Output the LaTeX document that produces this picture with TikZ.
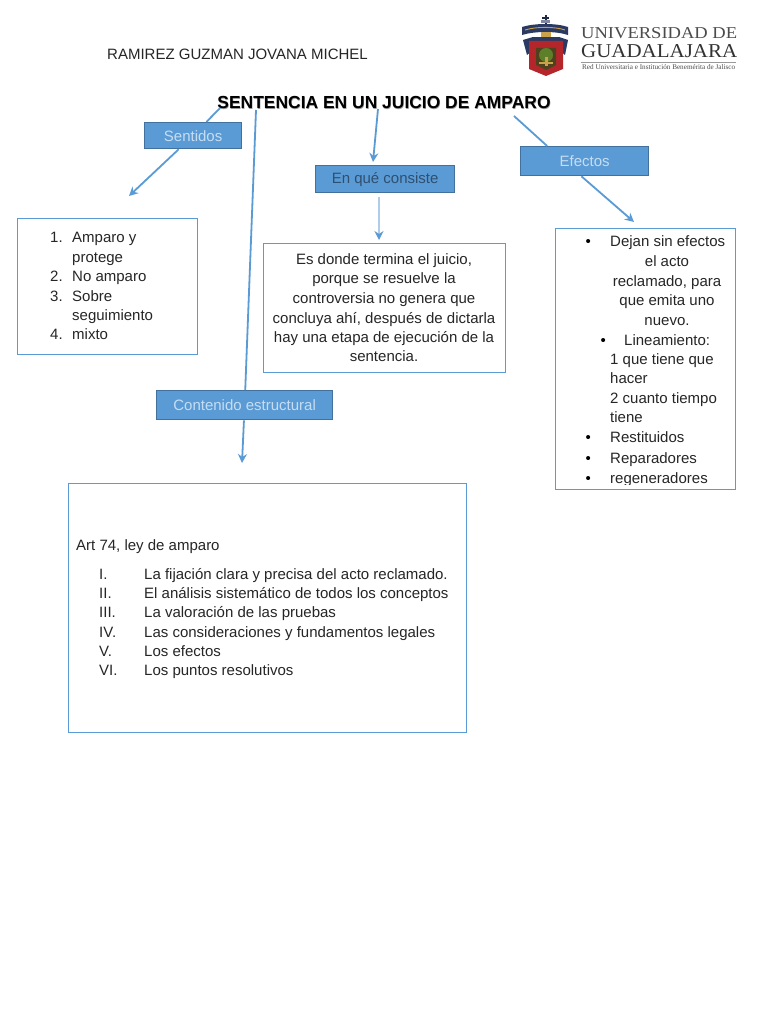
\documentclass[tikz,border=0pt]{standalone}
\usepackage{fontspec}
\setmainfont{Liberation Sans}
\newfontfamily\logoserif{Liberation Serif}
\usetikzlibrary{arrows.meta}
\definecolor{boxblue}{HTML}{5B9BD5}
\definecolor{boxedge}{HTML}{41719C}
\definecolor{lighttext}{HTML}{C5DDF2}
\definecolor{darktext}{HTML}{2F4F70}
\definecolor{bodytext}{HTML}{262626}
\definecolor{crestred}{HTML}{B5262B}
\definecolor{crestgold}{HTML}{C9A24A}
\definecolor{crestnavy}{HTML}{2B3A63}
\definecolor{crestgreen}{HTML}{5E7F2A}
\tikzset{
  x=1pt,y=-1pt,
  bodyfont/.style={font=\fontsize{15}{19.5}\selectfont,text=bodytext},
  line/.style={draw=boxblue,line width=1.8pt},
  arrowline/.style={line,-{Stealth[length=9pt,width=9pt]}},
  softarrow/.style={draw=boxblue!50,line width=1.3pt,-{Stealth[length=9pt,width=9pt,color=boxblue]}},
  label/.style={fill=boxblue,draw=boxedge,line width=1.3pt,inner sep=0pt,anchor=north west,font=\fontsize{15}{16}\selectfont},
  textbox/.style={draw=boxblue,line width=1.4pt,fill=white},
  txt/.style={bodyfont,anchor=base west,inner sep=0pt},
  ctxt/.style={bodyfont,anchor=base,inner sep=0pt},
  dot/.style={anchor=base west,inner sep=0pt,font=\fontsize{15}{19.5}\selectfont,text=black},
}
\begin{document}
\begin{tikzpicture}
\useasboundingbox (0,0) rectangle (768,1024);
\fill[white] (0,0) rectangle (768,1024);

% free ends of the connectors
\coordinate (sentFrom) at (220,108);
\coordinate (sentTip) at (129,196);
\coordinate (consFrom) at (378,109);
\coordinate (consTip) at (373,162);
\coordinate (consOut) at (379,197);
\coordinate (consOutTip) at (379,240);
\coordinate (contFrom) at (256,110);
\coordinate (contTip) at (242,463);
\coordinate (efecFrom) at (514,116);
\coordinate (efecTip) at (634,222);

% heading
\node[anchor=base west,inner sep=0pt,font=\fontsize{15}{16}\selectfont,text=bodytext] (author) at (107,60) {RAMIREZ GUZMAN JOVANA MICHEL};
\node[anchor=base,inner sep=0pt,font=\bfseries\fontsize{17.45}{18}\selectfont,text=black!40,xshift=0.5pt,yshift=-0.5pt] (titleshadow) at (384,109) {SENTENCIA EN UN JUICIO DE AMPARO};
\node[anchor=base,inner sep=0pt,font=\bfseries\fontsize{17.45}{18}\selectfont] (title) at (384,109) {SENTENCIA EN UN JUICIO DE AMPARO};

% labels
\node[label,minimum width=97pt,minimum height=26pt,text=lighttext] (sentidos) at (144,122) {Sentidos};
\node[label,minimum width=139pt,minimum height=27pt,text=darktext] (consiste) at (315,165) {En qué consiste};
\node[label,minimum width=128pt,minimum height=29pt,text=lighttext] (efectos) at (520,146) {Efectos};
\node[label,minimum width=176pt,minimum height=29pt,text=lighttext] (contenido) at (156,390) {Contenido estructural};

% connectors
\draw[line] (sentFrom) -- (sentidos);
\draw[arrowline] (sentidos) -- (sentTip);
\draw[arrowline] (consFrom) -- (consTip);
\draw[softarrow] (consOut) -- (consOutTip);
\draw[line] (contFrom) -- (contenido);
\draw[arrowline] (contenido) -- (contTip);
\draw[line] (efecFrom) -- (efectos.158);
\draw[arrowline] (efectos.258) -- (efecTip);

% left box
\node[textbox,anchor=north west,minimum width=180pt,minimum height=136pt,inner sep=0pt] (boxSent) at (17,218) {};
\node[txt] (s1n) at (50,243) {1.}; \node[txt] (s1) at (72,243) {Amparo y};
\node[txt] (s1b) at (72,262.5) {protege};
\node[txt] (s2n) at (50,281) {2.}; \node[txt] (s2) at (72,281) {No amparo};
\node[txt] (s3n) at (50,301) {3.}; \node[txt] (s3) at (72,301) {Sobre};
\node[txt] (s3b) at (72,320) {seguimiento};
\node[txt] (s4n) at (50,339) {4.}; \node[txt] (s4) at (72,339) {mixto};

% centre box
\node[textbox,anchor=north west,minimum width=242pt,minimum height=129pt,inner sep=0pt] (boxCons) at (263,243) {};
\node[ctxt] (c1) at (384,264) {Es donde termina el juicio,};
\node[ctxt] (c2) at (384,283.5) {porque se resuelve la};
\node[ctxt] (c3) at (384,303) {controversia no genera que};
\node[ctxt] (c4) at (384,323) {concluya ahí, después de dictarla};
\node[ctxt] (c5) at (384,342) {hay una etapa de ejecución de la};
\node[ctxt] (c6) at (384,361) {sentencia.};

% right box
\node[textbox,anchor=north west,minimum width=180pt,minimum height=261pt,inner sep=0pt] (boxEfec) at (555,228) {};
\node[dot] (e1d) at (585.5,247) {\textbullet};
\node[txt] (e1) at (610,247) {Dejan sin efectos};
\node[ctxt] (e2) at (667,266.5) {el acto};
\node[ctxt] (e3) at (667,286) {reclamado, para};
\node[ctxt] (e4) at (667,305) {que emita uno};
\node[ctxt] (e5) at (667,325) {nuevo.};
\node[dot] (e6d) at (600.5,345) {\textbullet};
\node[txt] (e6) at (624,345) {Lineamiento:};
\node[txt] (e7) at (610,364.5) {1 que tiene que};
\node[txt] (e8) at (610,383) {hacer};
\node[txt] (e9) at (610,403) {2 cuanto tiempo};
\node[txt] (e10) at (610,422) {tiene};
\node[dot] (e11d) at (585.5,442) {\textbullet};
\node[txt] (e11) at (610,442) {Restituidos};
\node[dot] (e12d) at (585.5,463) {\textbullet};
\node[txt] (e12) at (610,463) {Reparadores};
\node[dot] (e13d) at (585.5,483.5) {\textbullet};
\begin{scope}
\clip (600,465) rectangle (730,484.5);
\node[txt] (e13) at (610,483.5) {regeneradores};
\end{scope}

% bottom box
\node[textbox,anchor=north west,minimum width=398pt,minimum height=249pt,inner sep=0pt] (boxCont) at (68,483) {};
\node[txt] (a0) at (76,550) {Art 74, ley de amparo};
\node[txt] (a1n) at (99,579) {I.};    \node[txt] (a1) at (144,579) {La fijación clara y precisa del acto reclamado.};
\node[txt] (a2n) at (99,598.5) {II.};   \node[txt] (a2) at (144,598.5) {El análisis sistemático de todos los conceptos};
\node[txt] (a3n) at (99,617) {III.};  \node[txt] (a3) at (144,617) {La valoración de las pruebas};
\node[txt] (a4n) at (99,637) {IV.};   \node[txt] (a4) at (144,637) {Las consideraciones y fundamentos legales};
\node[txt] (a5n) at (99,656) {V.};    \node[txt] (a5) at (144,656) {Los efectos};
\node[txt] (a6n) at (99,675) {VI.};   \node[txt] (a6) at (144,675) {Los puntos resolutivos};

% university crest
\fill[crestnavy!70!black] (544.5,15) rectangle (546.5,24);
\fill[crestnavy!70!black] (542,17) rectangle (549,19);
\fill[crestnavy!60] (541,20.5) rectangle (550,23);
\fill[crestnavy] (522,27) .. controls (535,23) and (556,23) .. (568,27) -- (568,35) .. controls (556,31) and (535,31) .. (522,35) -- cycle;
\draw[crestgold,line width=0.9pt] (525,30) .. controls (536,26.5) and (555,26.5) .. (565,30);
\fill[crestgold] (541,32) rectangle (551,41);
\fill[crestnavy] (523,40) -- (533,37) -- (533,50) -- (527,55) -- cycle;
\fill[crestnavy] (568,40) -- (559,37) -- (559,50) -- (565,55) -- cycle;
\fill[crestnavy] (533,37) rectangle (559,44);
\fill[crestred] (529,41) -- (563,41) -- (563,69) -- (546,76) -- (529,69) -- cycle;
\fill[crestgold!40!black] (536,48) -- (556,48) -- (556,65) -- (546,70) -- (536,65) -- cycle;
\fill[crestgreen] (546,55) circle[radius=7pt];
\fill[crestgold] (544.5,57) rectangle (547.5,66);
\fill[crestgold] (539,62) rectangle (553,64.5);

% university wordmark
\node[inner sep=0pt,anchor=base west] (uni1) at (581,39) {\resizebox{156pt}{11pt}{\logoserif\color{black!70}UNIVERSIDAD DE}};
\node[inner sep=0pt,anchor=base west] (uni2) at (581,58) {\resizebox{156pt}{13pt}{\logoserif\color{black!80}GUADALAJARA}};
\draw[black!40,line width=0.5pt] (581,62) -- (736,62);
\node[inner sep=0pt,anchor=base west] (uni3) at (582,70) {\resizebox{153pt}{!}{\logoserif\color{black!70}Red Universitaria e Institución Benemérita de Jalisco}};
\end{tikzpicture}
\end{document}
